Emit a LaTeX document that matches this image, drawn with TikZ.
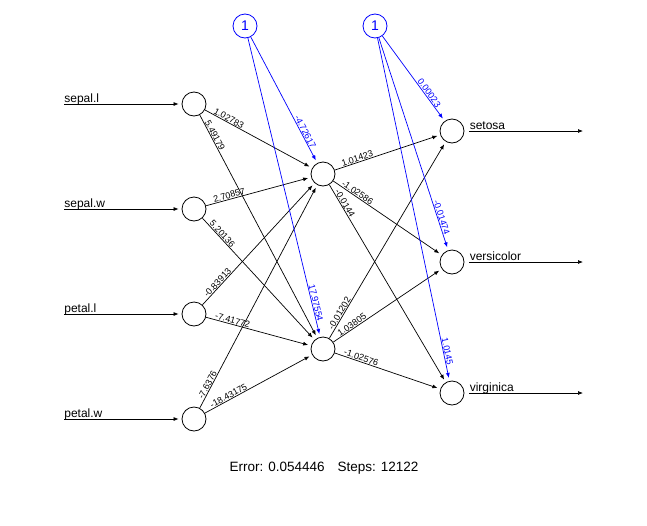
\documentclass[tikz,border=0pt]{standalone}
\usepackage{fontspec}
\setmainfont{Liberation Sans}
\usetikzlibrary{arrows.meta}

\begin{document}
\begin{tikzpicture}[x=1pt, y=-1pt, font=\fontsize{12}{14}\selectfont,
    neuron/.style={circle, draw, line width=0.8pt, minimum size=24pt, inner sep=0pt},
    bias/.style={neuron, draw=blue, text=blue, font=\fontsize{14}{14}\selectfont},
    syn/.style={line width=0.7pt, -{Latex[length=5pt,width=4pt]}, shorten >=3pt},
    bsyn/.style={syn, draw=blue},
    wt/.style={sloped, pos=0, anchor=south west, inner xsep=8.5pt, inner ysep=0.5pt, font=\fontsize{9}{9}\selectfont},
    bwt/.style={sloped, pos=1, anchor=south east, inner xsep=15pt, inner ysep=0.5pt, text=blue, font=\fontsize{9}{9}\selectfont}]

  \useasboundingbox (0,0) rectangle (647,525);

  % Neurons
  \node[neuron] (i1) at (194,104) {};
  \node[neuron] (i2) at (194,209) {};
  \node[neuron] (i3) at (194,314) {};
  \node[neuron] (i4) at (194,419) {};

  \node[neuron] (h1) at (323,174) {};
  \node[neuron] (h2) at (323,349) {};

  \node[neuron] (o1) at (452,131) {};
  \node[neuron] (o2) at (452,262) {};
  \node[neuron] (o3) at (452,393) {};

  \node[bias] (b1) at (245,26) {1};
  \node[bias] (b2) at (375,26) {1};

  % Inputs and outputs
  \coordinate (x1) at (64,104);
  \coordinate (x2) at (64,209);
  \coordinate (x3) at (64,314);
  \coordinate (x4) at (64,419);

  \coordinate (y1) at (583,131);
  \coordinate (y2) at (583,262);
  \coordinate (y3) at (583,393);

  \draw[syn] (x1) node[anchor=base west, inner sep=0pt, yshift=1.5pt] {sepal.l} -- (i1);
  \draw[syn] (x2) node[anchor=base west, inner sep=0pt, yshift=1.5pt] {sepal.w} -- (i2);
  \draw[syn] (x3) node[anchor=base west, inner sep=0pt, yshift=1.5pt] {petal.l} -- (i3);
  \draw[syn] (x4) node[anchor=base west, inner sep=0pt, yshift=1.5pt] {petal.w} -- (i4);

  \draw[syn, shorten >=0pt, shorten <=5pt] (o1) -- node[pos=0, anchor=base west, inner sep=0pt, xshift=5pt, yshift=1.5pt] {setosa} (y1);
  \draw[syn, shorten >=0pt, shorten <=5pt] (o2) -- node[pos=0, anchor=base west, inner sep=0pt, xshift=5pt, yshift=1.5pt] {versicolor} (y2);
  \draw[syn, shorten >=0pt, shorten <=5pt] (o3) -- node[pos=0, anchor=base west, inner sep=0pt, xshift=5pt, yshift=1.5pt] {virginica} (y3);

  % Input to hidden
  \draw[syn] (i1) -- node[wt] {1.02783} (h1);
  \draw[syn] (i1) -- node[wt] {5.49179} (h2);
  \draw[syn] (i2) -- node[wt] {2.70857} (h1);
  \draw[syn] (i2) -- node[wt] {5.20136} (h2);
  \draw[syn] (i3) -- node[wt] {-0.83913} (h1);
  \draw[syn] (i3) -- node[wt] {-7.41772} (h2);
  \draw[syn] (i4) -- node[wt] {-7.6376} (h1);
  \draw[syn] (i4) -- node[wt] {-18.43175} (h2);

  \draw[bsyn] (b1) -- node[bwt] {-4.72617} (h1);
  \draw[bsyn] (b1) -- node[bwt] {17.97554} (h2);

  % Hidden to output
  \draw[syn] (h1) -- node[wt] {1.01423} (o1);
  \draw[syn] (h1) -- node[wt] {-1.02586} (o2);
  \draw[syn] (h1) -- node[wt] {-0.0144} (o3);
  \draw[syn] (h2) -- node[wt] {-0.01202} (o1);
  \draw[syn] (h2) -- node[wt] {1.03805} (o2);
  \draw[syn] (h2) -- node[wt] {-1.02576} (o3);

  \draw[bsyn] (b2) -- node[bwt] {0.00023} (o1);
  \draw[bsyn] (b2) -- node[bwt] {-0.01474} (o2);
  \draw[bsyn] (b2) -- node[bwt] {1.0145} (o3);

  \node[font=\fontsize{13.5}{15}\selectfont] (err) at (324,468) {Error: 0.054446\hspace{13pt}Steps: 12122};

\end{tikzpicture}
\end{document}
